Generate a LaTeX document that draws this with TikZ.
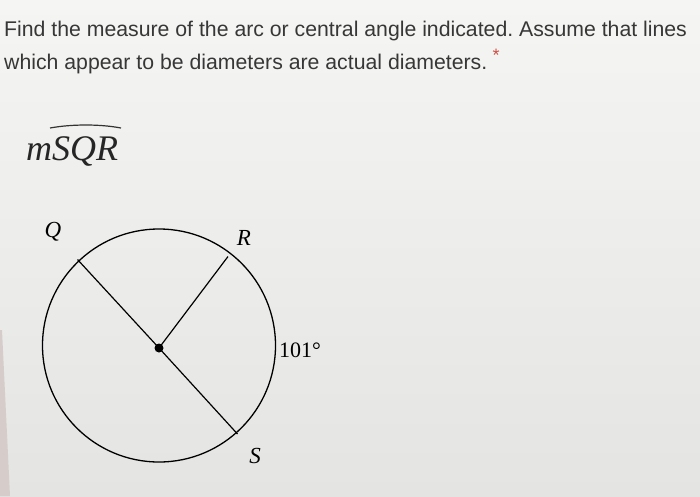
\documentclass[tikz,border=0pt]{standalone}
\usepackage{fontspec}
\setmainfont{Liberation Serif}
\newfontfamily\qsans{Liberation Sans}
\usetikzlibrary{positioning}
\frenchspacing
\definecolor{papertop}{RGB}{245,245,243}
\definecolor{paperbot}{RGB}{228,228,226}
\definecolor{edgegray}{RGB}{214,204,202}
\definecolor{inkgray}{RGB}{55,55,55}
\definecolor{starred}{RGB}{205,80,70}
\tikzset{
  ptlabel/.style={font=\fontsize{23}{23}\selectfont\itshape, inner sep=0pt},
  qline/.style={font=\qsans\fontsize{21.25}{21.25}\selectfont, text=inkgray, inner sep=0pt, anchor=base west}
}
\begin{document}
\begin{tikzpicture}[x=1pt,y=-1pt]
  \useasboundingbox (0,0) rectangle (700,496);
  \shade[top color=papertop, bottom color=paperbot] (0,0) rectangle (700,496);
  \fill[edgegray] (0,330) -- (2,330) -- (10,496) -- (0,496) -- cycle;

  \node[qline] (line1) at (4,36.5) {Find the measure of the arc or central angle indicated. Assume that lines};
  \node[qline] (line2) at (4,69) {which appear to be diameters are actual diameters.};
  \node[font=\qsans\fontsize{18}{18}\selectfont, text=starred, inner sep=0pt] (star) at (496,55) {*};

  \node[font=\fontsize{36}{36}\selectfont\itshape, text=black!85, anchor=base west, inner sep=0pt] (arcname) at (26,160.5) {mSQR};
  \draw[line width=1.2pt, black!80] (50,128) .. controls (72,124) and (100,124) .. (121,128);

  \draw[line width=1.3pt] (159,345.5) circle (116.5);
  \node[circle, fill=black, minimum size=9pt, inner sep=0pt] (O) at (159,348) {};
  \coordinate (Q) at (77.5,259.5);
  \coordinate (R) at (228,256.5);
  \coordinate (S) at (237.5,434);

  \draw[line width=1.2pt] (Q) -- (O.center) -- (S);
  \draw[line width=1.2pt] (O.center) -- (R);

  \node[ptlabel] (qlab) at (53,232) {Q};
  \node[ptlabel] (rlab) at (244,238) {R};
  \node[ptlabel] (slab) at (255,456) {S};
  \node[font=\fontsize{22}{22}\selectfont, anchor=west, inner sep=0pt] (deg) at (279,350) {101°};
\end{tikzpicture}
\end{document}
